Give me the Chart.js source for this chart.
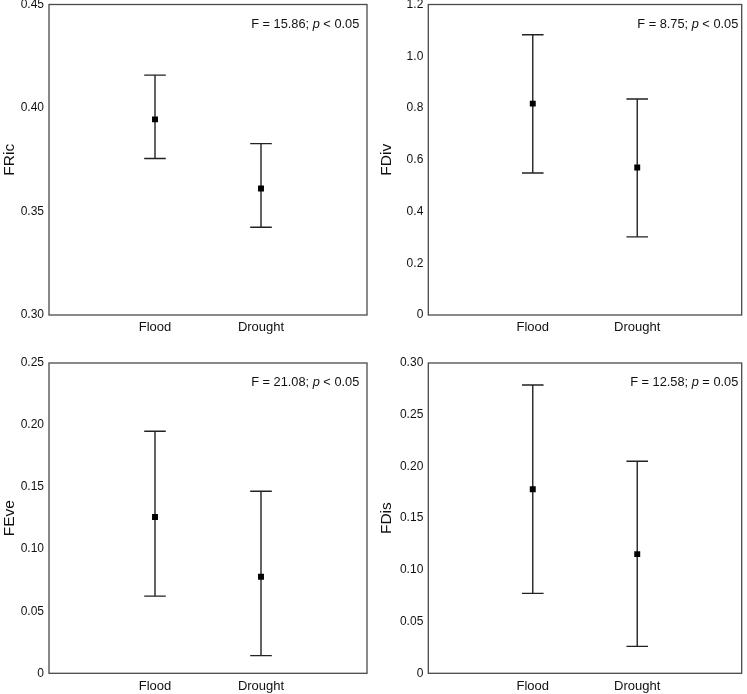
<!DOCTYPE html>
<html><head><meta charset="utf-8">
<script src="https://cdn.jsdelivr.net/npm/chart.js@4"></script>
<style>
html,body{margin:0;padding:0;background:#fff;width:747px;height:694px;overflow:hidden}
.p{position:absolute}
</style></head><body>
<div class="p" style="left:0;top:0;width:373px;height:345px"><canvas id="c1"></canvas></div>
<div class="p" style="left:377px;top:0;width:370px;height:345px"><canvas id="c2"></canvas></div>
<div class="p" style="left:0;top:345px;width:373px;height:349px"><canvas id="c3"></canvas></div>
<div class="p" style="left:377px;top:345px;width:370px;height:349px"><canvas id="c4"></canvas></div>
<script>
const categories = ['Flood', 'Drought'];

const fricMean  = [0.3945, 0.3611];
const fricUpper = [0.4159, 0.3828];
const fricLower = [0.3756, 0.3424];
const fricTicks = ['0.30', '0.35', '0.40', '0.45'];
const fricNote  = [['F = 15.86; ', false], ['p', true], [' < 0.05', false]];

const fdivMean  = [0.817, 0.570];
const fdivUpper = [1.083, 0.835];
const fdivLower = [0.549, 0.302];
const fdivTicks = ['0', '0.2', '0.4', '0.6', '0.8', '1.0', '1.2'];
const fdivNote  = [['F = 8.75; ', false], ['p', true], [' < 0.05', false]];

const feveMean  = [0.126, 0.0778];
const feveUpper = [0.195, 0.1467];
const feveLower = [0.0622, 0.0142];
const feveTicks = ['0', '0.05', '0.10', '0.15', '0.20', '0.25'];
const feveNote  = [['F = 21.08; ', false], ['p', true], [' < 0.05', false]];

const fdisMean  = [0.178, 0.1152];
const fdisUpper = [0.2788, 0.205];
const fdisLower = [0.0773, 0.026];
const fdisTicks = ['0', '0.05', '0.10', '0.15', '0.20', '0.25', '0.30'];
const fdisNote  = [['F = 12.58; ', false], ['p', true], [' = 0.05', false]];

const FONT = '"Liberation Sans", Arial, sans-serif';

const errorBarPlugin = {
  id: 'errorBars',
  beforeDatasetsDraw(chart, args, opts) {
    const {ctx, scales: {x, y}} = chart;
    ctx.save();
    ctx.strokeStyle = '#222';
    ctx.lineWidth = 1.4;
    opts.upper.forEach((u, i) => {
      const px = x.getPixelForValue(i + 1);
      const pu = y.getPixelForValue(u);
      const pl = y.getPixelForValue(opts.lower[i]);
      const hw = 10.8;
      ctx.beginPath();
      ctx.moveTo(px, pu); ctx.lineTo(px, pl);
      ctx.moveTo(px - hw, pu); ctx.lineTo(px + hw, pu);
      ctx.moveTo(px - hw, pl); ctx.lineTo(px + hw, pl);
      ctx.stroke();
    });
    ctx.restore();
  },
  afterDraw(chart, args, opts) {
    const {ctx, chartArea: a} = chart;
    ctx.save();
    ctx.strokeStyle = '#4a4a4a';
    ctx.lineWidth = 1.3;
    ctx.strokeRect(a.left, a.top, a.right - a.left, a.bottom - a.top);
    const size = 12.8;
    const fonts = opts.note.map(([t, it]) => (it ? 'italic ' : '') + size + 'px ' + FONT);
    let total = 0;
    opts.note.forEach(([t], k) => { ctx.font = fonts[k]; total += ctx.measureText(t).width; });
    let xx = a.right - opts.noteInset - total;
    const yy = a.top + 19.5;
    ctx.fillStyle = '#111';
    ctx.textBaseline = 'middle';
    ctx.textAlign = 'left';
    opts.note.forEach(([t], k) => {
      ctx.font = fonts[k];
      ctx.fillText(t, xx, yy);
      xx += ctx.measureText(t).width;
    });
    ctx.restore();
  }
};

function makePanel(id, title, mean, upper, lower, ticks, note, g) {
  const tickVals = ticks.map(parseFloat);
  new Chart(document.getElementById(id), {
    type: 'scatter',
    data: {
      datasets: [{
        data: mean.map((m, i) => ({x: i + 1, y: m})),
        pointStyle: 'rect',
        pointRadius: 4.2,
        pointHoverRadius: 4.2,
        backgroundColor: '#000',
        borderWidth: 0
      }]
    },
    plugins: [errorBarPlugin],
    options: {
      responsive: true,
      maintainAspectRatio: false,
      animation: false,
      events: [],
      layout: {padding: {top: g.top, right: g.right, left: 0, bottom: 0}},
      plugins: {
        legend: {display: false},
        tooltip: {enabled: false},
        errorBars: {upper, lower, note, noteInset: g.inset}
      },
      scales: {
        x: {
          type: 'linear', min: 0, max: categories.length + 1,
          grid: {display: false, drawTicks: false},
          border: {display: false},
          afterBuildTicks: s => { s.ticks = categories.map((c, i) => ({value: i + 1})); },
          ticks: {
            padding: 5, color: '#111', maxRotation: 0, autoSkip: false,
            font: {family: FONT, size: 13},
            callback: v => categories[v - 1] || ''
          },
          afterFit: s => { s.height = g.xh; s.paddingLeft = 0; s.paddingRight = 0; }
        },
        y: {
          type: 'linear', min: tickVals[0], max: tickVals[tickVals.length - 1],
          grid: {display: false, drawTicks: false},
          border: {display: false},
          afterBuildTicks: s => { s.ticks = tickVals.map(v => ({value: v})); },
          ticks: {
            padding: 5, color: '#111',
            font: {family: FONT, size: 12},
            callback: (v, i) => ticks[i]
          },
          title: {display: true, text: title, color: '#111', padding: 0,
                  font: {family: FONT, size: 15.5}},
          afterFit: s => { s.width = g.yw; s.paddingTop = 0; s.paddingBottom = 0; }
        }
      }
    }
  });
}

makePanel('c1', 'FRic', fricMean, fricUpper, fricLower, fricTicks, fricNote,
  {top: 4.5, right: 6, yw: 49, xh: 30, inset: 7.7});
makePanel('c2', 'FDiv', fdivMean, fdivUpper, fdivLower, fdivTicks, fdivNote,
  {top: 4.5, right: 5.3, yw: 51.3, xh: 30, inset: 3.4});
makePanel('c3', 'FEve', feveMean, feveUpper, feveLower, feveTicks, feveNote,
  {top: 18, right: 6, yw: 49, xh: 20.7, inset: 7.7});
makePanel('c4', 'FDis', fdisMean, fdisUpper, fdisLower, fdisTicks, fdisNote,
  {top: 18, right: 5.3, yw: 51.3, xh: 20.7, inset: 3.4});
</script>
</body></html>
